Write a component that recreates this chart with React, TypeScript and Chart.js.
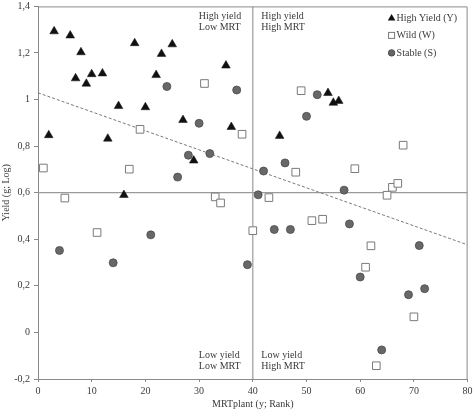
import React, { useEffect, useRef } from "react";
import { Chart, registerables } from "chart.js";

Chart.register(...registerables);

// ---- data ----
const highYieldRank = [2, 3, 6, 7, 8, 9, 10, 12, 13, 15, 16, 18, 20, 22, 23, 25, 27, 29, 35, 36, 45, 54, 55, 56];
const highYieldValue = [0.847, 1.293, 1.275, 1.091, 1.203, 1.068, 1.109, 1.112, 0.832, 0.972, 0.59, 1.242, 0.967, 1.105, 1.196, 1.237, 0.912, 0.738, 1.146, 0.882, 0.844, 1.028, 0.986, 0.994];

const wildRank = [1, 5, 11, 17, 19, 31, 33, 34, 38, 40, 43, 48, 49, 51, 53, 59, 61, 62, 63, 65, 66, 67, 68, 70];
const wildValue = [0.706, 0.577, 0.429, 0.701, 0.872, 1.069, 0.582, 0.556, 0.851, 0.437, 0.579, 0.688, 1.038, 0.48, 0.486, 0.703, 0.28, 0.372, -0.143, 0.589, 0.623, 0.64, 0.804, 0.067];

const stableRank = [4, 14, 21, 24, 26, 28, 30, 32, 37, 39, 41, 42, 44, 46, 47, 50, 52, 57, 58, 60, 64, 69, 71, 72];
const stableValue = [0.352, 0.299, 0.419, 1.056, 0.667, 0.761, 0.898, 0.768, 1.041, 0.291, 0.591, 0.693, 0.442, 0.728, 0.442, 0.928, 1.021, 0.611, 0.466, 0.238, -0.075, 0.162, 0.373, 0.188];

const trendRank = [0, 80];
const trendValue = [1.029, 0.376];

const rankThreshold = 40;
const yieldThreshold = 0.6;

const seriesLabels = ["High Yield (Y)", "Wild (W)", "Stable (S)"];
const yTickValues = [-0.2, 0, 0.2, 0.4, 0.6, 0.8, 1, 1.2, 1.4];
const yTickLabels = ["-0,2", "0", "0,2", "0,4", "0,6", "0,8", "1", "1,2", "1,4"];
const xTickLabels = ["0", "10", "20", "30", "40", "50", "60", "70", "80"];
const quadrantLabels = [
  ["High yield", "Low MRT"],
  ["High yield", "High MRT"],
  ["Low yield", "Low MRT"],
  ["Low yield", "High MRT"],
];
const xTitle = "MRTplant (y; Rank)";
const yTitle = "Yield (g; Log)";

const FONT = "'Liberation Serif', 'Times New Roman', serif";
const TEXT = "#3a3a3a";
const AXIS = "#8a8a8a";

function pts(xs: number[], ys: number[]) {
  return xs.map((x, i) => ({ x, y: ys[i] }));
}

const overlayPlugin = {
  id: "overlay",
  afterDatasetsDraw(chart: any) {
    const { ctx, chartArea, scales } = chart;
    const xs = scales.x;
    ctx.save();
    // frame (top & right)
    ctx.strokeStyle = AXIS;
    ctx.lineWidth = 1;
    ctx.beginPath();
    ctx.moveTo(chartArea.left, chartArea.top + 0.5);
    ctx.lineTo(chartArea.right - 0.5, chartArea.top + 0.5);
    ctx.lineTo(chartArea.right - 0.5, chartArea.bottom);
    ctx.stroke();

    // quadrant labels
    ctx.font = `10px ${FONT}`;
    ctx.fillStyle = TEXT;
    ctx.textBaseline = "middle";
    ctx.textAlign = "left";
    const xl = xs.getPixelForValue(rankThreshold) - 54;
    const xr = xs.getPixelForValue(rankThreshold) + 8.5;
    const yTop = chartArea.top + 9.5;
    const yBot = chartArea.bottom - 23.5;
    const pos = [
      [xl, yTop],
      [xr, yTop],
      [xl, yBot],
      [xr, yBot],
    ];
    quadrantLabels.forEach((lines, i) => {
      lines.forEach((t, j) => ctx.fillText(t, pos[i][0], pos[i][1] + j * 11));
    });

    // legend
    const lx = chartArea.right - 76;
    const ly = chartArea.top + 11.5;
    seriesLabels.forEach((lab, i) => {
      const y = ly + i * 17.5;
      const mx = lx;
      ctx.lineWidth = 1;
      if (i === 0) {
        ctx.fillStyle = "#111";
        ctx.beginPath();
        ctx.moveTo(mx, y - 4);
        ctx.lineTo(mx + 3.8, y + 2.5);
        ctx.lineTo(mx - 3.8, y + 2.5);
        ctx.closePath();
        ctx.fill();
      } else if (i === 1) {
        ctx.fillStyle = "#fff";
        ctx.strokeStyle = "#777";
        ctx.fillRect(mx - 3, y - 3, 6, 6);
        ctx.strokeRect(mx - 3, y - 3, 6, 6);
      } else {
        ctx.fillStyle = "#666";
        ctx.strokeStyle = "#4a4a4a";
        ctx.beginPath();
        ctx.arc(mx, y, 3.2, 0, Math.PI * 2);
        ctx.fill();
        ctx.stroke();
      }
      ctx.fillStyle = TEXT;
      ctx.fillText(lab, mx + 5, y);
    });
    ctx.restore();
  },
};

export default function App() {
  const ref = useRef<HTMLCanvasElement | null>(null);
  useEffect(() => {
    document.body.style.margin = "0";
    if (!ref.current) return;
    const chart = new Chart(ref.current, {
      type: "scatter",
      data: {
        datasets: [
          {
            label: seriesLabels[0],
            data: pts(highYieldRank, highYieldValue),
            pointStyle: "triangle",
            pointRadius: 5,
            backgroundColor: "#111",
            borderColor: "#111",
            borderWidth: 0.5,
            order: 1,
          },
          {
            label: seriesLabels[1],
            data: pts(wildRank, wildValue),
            pointStyle: "rect",
            pointRadius: 5.4,
            backgroundColor: "#fff",
            borderColor: "#7a7a7a",
            borderWidth: 1,
            order: 1,
          },
          {
            label: seriesLabels[2],
            data: pts(stableRank, stableValue),
            pointStyle: "circle",
            pointRadius: 4,
            backgroundColor: "#686868",
            borderColor: "#4a4a4a",
            borderWidth: 0.8,
            order: 1,
          },
          {
            type: "line",
            label: "trend",
            data: pts(trendRank, trendValue),
            borderColor: "#7a7a7a",
            borderWidth: 1,
            borderDash: [3, 2],
            pointRadius: 0,
            showLine: true,
            order: 5,
          } as any,
          {
            type: "line",
            label: "vline",
            data: [
              { x: rankThreshold, y: yTickValues[0] },
              { x: rankThreshold, y: yTickValues[yTickValues.length - 1] },
            ],
            borderColor: "#9a9a9a",
            borderWidth: 1.2,
            pointRadius: 0,
            showLine: true,
            order: 10,
          } as any,
          {
            type: "line",
            label: "hline",
            data: [
              { x: 0, y: yieldThreshold },
              { x: 80, y: yieldThreshold },
            ],
            borderColor: "#9a9a9a",
            borderWidth: 1.2,
            pointRadius: 0,
            showLine: true,
            order: 10,
          } as any,
        ],
      },
      options: {
        responsive: false,
        animation: false,
        devicePixelRatio: 1,
        layout: { padding: { top: 4, right: 6, left: 0, bottom: 0 } },
        plugins: {
          legend: { display: false },
          tooltip: { enabled: false },
        },
        scales: {
          x: {
            type: "linear",
            min: 0,
            max: 80,
            ticks: {
              stepSize: 10,
              padding: 3,
              color: TEXT,
              font: { family: FONT, size: 10 },
              callback: (v: any, i: number) => xTickLabels[i] ?? String(v),
            },
            grid: { drawOnChartArea: false, drawTicks: true, tickLength: 3, color: AXIS },
            border: { display: true, color: AXIS },
            title: {
              display: true,
              text: xTitle,
              color: TEXT,
              font: { family: FONT, size: 10 },
              padding: { top: 0, bottom: 2 },
            },
            afterFit: (s: any) => {
              s.height = 33;
              s.paddingLeft = 0;
              s.paddingRight = 0;
            },
          },
          y: {
            type: "linear",
            min: -0.2,
            max: 1.4,
            afterBuildTicks: (s: any) => {
              s.ticks = yTickValues.map((v) => ({ value: v }));
            },
            ticks: {
              padding: 4,
              color: TEXT,
              font: { family: FONT, size: 10, lineHeight: 0.8 },
              callback: (v: any, i: number) => yTickLabels[i] ?? String(v),
            },
            grid: { drawOnChartArea: false, drawTicks: true, tickLength: 4, color: AXIS },
            border: { display: true, color: AXIS },
            title: {
              display: true,
              text: yTitle,
              color: TEXT,
              font: { family: FONT, size: 10 },
              padding: { top: 0, bottom: 0 },
            },
            afterFit: (s: any) => {
              s.width = 38;
              s.paddingTop = 0;
              s.paddingBottom = 0;
            },
          },
        },
      } as any,
      plugins: [overlayPlugin],
    });
    return () => chart.destroy();
  }, []);
  return (
    <div style={{ width: 474, height: 412 }}>
      <canvas ref={ref} width={474} height={412} style={{ display: "block" }} />
    </div>
  );
}
